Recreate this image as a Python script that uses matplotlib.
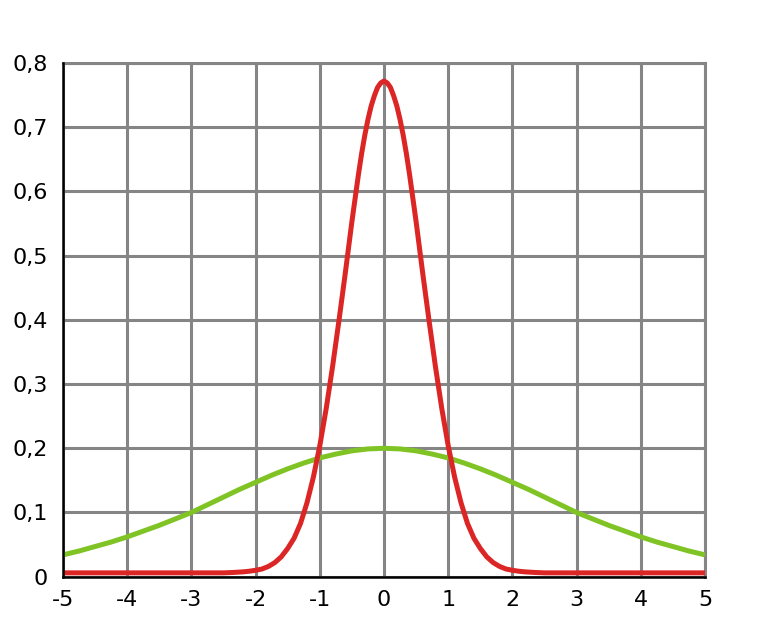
import matplotlib
matplotlib.use('Agg')
import matplotlib.pyplot as plt

# red curve (right half, mirrored for the left half)
red_x = [0.0, 0.05, 0.1, 0.15, 0.2, 0.25, 0.3, 0.35, 0.4, 0.5, 0.6, 0.7, 0.8, 0.9, 1.0,
         1.1, 1.2, 1.3, 1.4, 1.5, 1.6, 1.7, 1.8, 1.9, 2.0, 2.1, 2.2, 2.35, 2.5, 3.0, 4.0, 5.0]
red_y = [0.772, 0.769, 0.762, 0.749, 0.733, 0.712, 0.687, 0.658, 0.625, 0.553, 0.475,
         0.400, 0.328, 0.262, 0.204, 0.155, 0.115, 0.083, 0.060, 0.044, 0.031, 0.022,
         0.016, 0.012, 0.010, 0.0085, 0.0075, 0.0066, 0.006, 0.006, 0.006, 0.006]

# green curve
green_x = [0.0, 0.25, 0.5, 0.75, 1.0, 1.25, 1.5, 1.75, 2.0, 2.25, 2.5, 2.75, 3.0,
           3.25, 3.5, 3.75, 4.0, 4.25, 4.5, 4.75, 5.0]
green_y = [0.200, 0.199, 0.196, 0.191, 0.185, 0.177, 0.168, 0.158, 0.147, 0.136,
           0.124, 0.112, 0.100, 0.090, 0.080, 0.071, 0.062, 0.054, 0.047, 0.040, 0.034]

x_ticks = [-5, -4, -3, -2, -1, 0, 1, 2, 3, 4, 5]
x_labels = ['-5', '-4', '-3', '-2', '-1', '0', '1', '2', '3', '4', '5']
y_ticks = [0, 0.1, 0.2, 0.3, 0.4, 0.5, 0.6, 0.7, 0.8]
y_labels = ['0', '0,1', '0,2', '0,3', '0,4', '0,5', '0,6', '0,7', '0,8']


def mirror(xs, ys):
	fx = [-v for v in xs[:0:-1]] + list(xs)
	fy = list(ys[:0:-1]) + list(ys)
	return fx, fy


fig = plt.figure(figsize=(7.68, 6.41), dpi=100)
ax = fig.add_axes([0.082, 0.1003, 0.836, 0.8014])

gx, gy = mirror(green_x, green_y)
rx, ry = mirror(red_x, red_y)
ax.plot(gx, gy, color='#7fc424', lw=3.6, solid_capstyle='butt',
	solid_joinstyle='round', zorder=3)
ax.plot(rx, ry, color='#dc2525', lw=3.6, solid_capstyle='butt',
	solid_joinstyle='round', zorder=4)

ax.set_xlim(-5, 5)
ax.set_ylim(0, 0.8)
ax.set_xticks(x_ticks)
ax.set_xticklabels(x_labels)
ax.set_yticks(y_ticks)
ax.set_yticklabels(y_labels)
ax.tick_params(length=0, labelsize=16, colors='black')
ax.tick_params(axis='y', pad=11)
ax.tick_params(axis='x', pad=9.5)
ax.grid(True, color='#858585', lw=2.2)
ax.set_axisbelow(True)

for s in ['top', 'right']:
	ax.spines[s].set_color('#858585')
	ax.spines[s].set_linewidth(2.2)
for s in ['left', 'bottom']:
	ax.spines[s].set_color('black')
	ax.spines[s].set_linewidth(1.8)
	ax.spines[s].set_zorder(5)

fig.savefig('out.png', dpi=100)
